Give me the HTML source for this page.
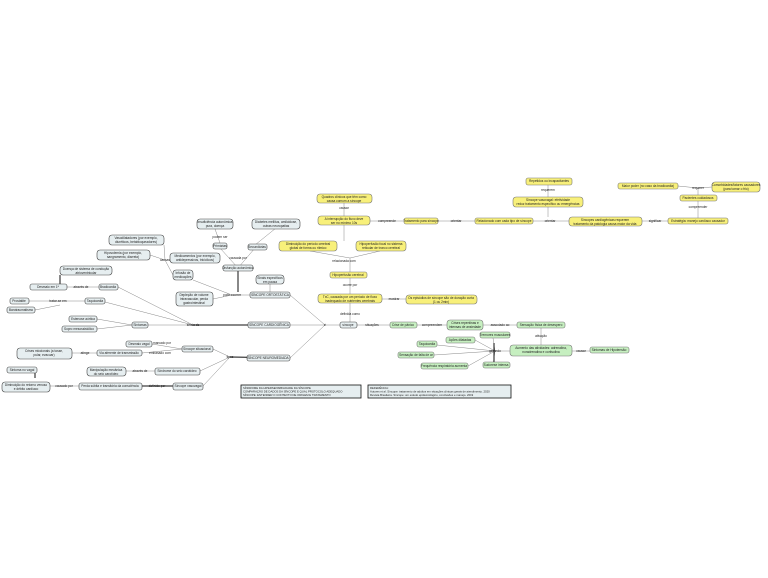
<!DOCTYPE html>
<html><head><meta charset="utf-8"><style>
html,body{margin:0;padding:0;background:#fff;}
svg{display:block;font-family:"Liberation Sans",sans-serif;}
.g{fill:#e6eef0;stroke:#444;stroke-width:.6}
.y{fill:#f8f07a;stroke:#777;stroke-width:.6}
.n{fill:#c6efc0;stroke:#777;stroke-width:.6}
text{font-size:3.2px;fill:#222;text-anchor:middle}
.l{stroke:#888;stroke-width:.5;fill:none}
.k{stroke:#111;stroke-width:1;fill:none}
.lt{font-size:2.8px;fill:#444}
</style></head><body>
<svg width="768" height="578" viewBox="0 0 768 578" xmlns="http://www.w3.org/2000/svg">
<!-- connectors -->
<g class="l">
<path d="M193 325 L118 287 M193 325 L105 302 M193 325 L148 325 M193 325 L248 325 M325 325 L290 295 M325 325 L290 325 M325 325 L290 358 M340 325 L325 325 M357 325 L390 325 M417 325 L447 325 M483 325 L517 325"/>
<path d="M230 357 L213 349 M230 357 L200 371 M230 357 L203 386 M230 357 L290 358 M182 349 L142 353 M182 349 L152 344 M155 371 L126 371 M173 386 L142 386 M79 386 L50 386 M97 353 L72 353"/>
<path d="M232 295 L193 280 M232 295 L213 299 M232 295 L250 295 M165 260 L150 255 M165 260 L164 245 M165 260 L173 275 M99 287 L67 287 M85 301 L29 301 M60 305 L35 310 M132 325 L97 319 M132 325 L97 329"/>
<path d="M238 268 L220 248 M238 268 L255 248 M220 243 L215 229 M255 245 L276 228 M270 292 L270 284"/>
<path d="M495 351 L475 340 M495 351 L493 338 M495 351 L437 345 M495 351 L434 355 M495 351 L468 366 M495 351 L493 365 M495 351 L510 351 M572 351 L590 351 M541 328 L541 345"/>
<path d="M350 323 L350 303 M350 294 L350 278 M350 272 L350 258 L310 251 M350 258 L380 251 M344 241 L344 225 M344 216 L344 203 M370 221 L404 221 M438 221 L475 221 M533 221 L569 221 M548 217 L548 207 M548 197 L548 185 M642 221 L668 221 M698 218 L698 201 M698 195 L698 188 L678 186 M698 188 L712 187 M382 299 L406 299"/>
</g>
<g class="k">
<path d="M193 325 L248 325 M290 358 L230 357 M238 268 L238 292 M60 275 L60 287 M142 386 L173 386 M35 378 L35 373 M494 343 L494 365"/>
</g>
<!-- grey nodes -->
<g>
<rect class="g" x="197" y="219" width="36" height="10" rx="3"/><text x="215" y="223">Insuficiência autonômica</text><text x="215" y="227">pura, doença</text>
<rect class="g" x="252" y="219" width="48" height="10" rx="3"/><text x="276" y="223">Diabetes mellitus, amiloidose,</text><text x="276" y="227">outras neuropatias</text>
<rect class="g" x="213" y="243" width="14" height="6" rx="2"/><text x="220" y="247">Primárias</text>
<rect class="g" x="248" y="244" width="19" height="6" rx="2"/><text x="257" y="248">Secundárias</text>
<rect class="g" x="223" y="265" width="30" height="6" rx="2"/><text x="238" y="269">Disfunção autonômica</text>
<rect class="g" x="109" y="235" width="55" height="10" rx="3"/><text x="136" y="239">Vasodilatadores (por exemplo,</text><text x="136" y="243">diuréticos, betabloqueadores)</text>
<rect class="g" x="97" y="250" width="53" height="10" rx="3"/><text x="123" y="254">Hipovolemia (por exemplo,</text><text x="123" y="258">sangramento, diarreia)</text>
<rect class="g" x="170" y="253" width="50" height="10" rx="3"/><text x="195" y="257">Medicamentos (por exemplo,</text><text x="195" y="261">antidepressivos, tricíclicos)</text>
<rect class="g" x="173" y="270" width="20" height="10" rx="3"/><text x="183" y="274">Infusão de</text><text x="183" y="278">medicações</text>
<rect class="g" x="176" y="292" width="37" height="14" rx="3"/><text x="194" y="296">Depleção de volume</text><text x="194" y="300">intravascular, perda</text><text x="194" y="304">gastrointestinal</text>
<rect class="g" x="250" y="292" width="40" height="6" rx="2"/><text x="270" y="296">SÍNCOPE ORTOSTÁTICA</text>
<rect class="g" x="256" y="275" width="28" height="9" rx="3"/><text x="270" y="279">Sinais específicos</text><text x="270" y="283">em pausa</text>
<rect class="g" x="248" y="322" width="42" height="6" rx="2"/><text x="269" y="326">SÍNCOPE CARDIOGÊNICA</text>
<rect class="g" x="247" y="355" width="43" height="6" rx="2"/><text x="268" y="359">SÍNCOPE NEUROMEDIADA</text>
<rect class="g" x="340" y="322" width="17" height="6" rx="2"/><text x="348" y="326">síncope</text>
<rect class="g" x="60" y="266" width="52" height="9" rx="3"/><text x="86" y="270">Doença de sistema de condução</text><text x="86" y="274">atrioventricular</text>
<rect class="g" x="99" y="284" width="19" height="6" rx="2"/><text x="108" y="288">Bradicardia</text>
<rect class="g" x="30" y="284" width="37" height="6" rx="2"/><text x="48" y="288">Desmaio em 1ª</text>
<rect class="g" x="85" y="298" width="20" height="6" rx="2"/><text x="95" y="302">Taquicardia</text>
<rect class="g" x="10" y="298" width="19" height="6" rx="2"/><text x="19" y="302">Prostatite</text>
<rect class="g" x="7" y="307" width="28" height="6" rx="2"/><text x="21" y="311">Barotraumatismo</text>
<rect class="g" x="132" y="322" width="16" height="6" rx="2"/><text x="140" y="326">Sintomas</text>
<rect class="g" x="69" y="316" width="28" height="6" rx="2"/><text x="83" y="320">Estenose aórtica</text>
<rect class="g" x="62" y="326" width="35" height="6" rx="2"/><text x="79" y="330">Sopro mesossistólico</text>
<rect class="g" x="126" y="341" width="26" height="6" rx="2"/><text x="139" y="345">Desmaio vagal</text>
<rect class="g" x="182" y="346" width="31" height="6" rx="2"/><text x="197" y="350">Síncope situacional</text>
<rect class="g" x="97" y="350" width="45" height="6" rx="2"/><text x="119" y="354">Via aferente de transmissão</text>
<rect class="g" x="17" y="348" width="55" height="11" rx="3"/><text x="44" y="352">Crises miccionais (a tosse,</text><text x="44" y="356">pular, evacuar)</text>
<rect class="g" x="155" y="368" width="45" height="7" rx="2"/><text x="177" y="372">Síndrome do seio carotídeo</text>
<rect class="g" x="87" y="367" width="39" height="9" rx="3"/><text x="106" y="371">Manipulação mecânica</text><text x="106" y="375">do seio carotídeo</text>
<rect class="g" x="173" y="383" width="30" height="7" rx="2"/><text x="188" y="387">Síncope vasovagal</text>
<rect class="g" x="79" y="383" width="63" height="7" rx="2"/><text x="110" y="387">Perda súbita e transitória da consciência</text>
<rect class="g" x="2" y="382" width="48" height="10" rx="3"/><text x="26" y="386">Diminuição do retorno venoso</text><text x="26" y="390">e débito cardíaco</text>
<rect class="g" x="7" y="367" width="30" height="6" rx="2"/><text x="22" y="371">Sintoma no vagal</text>
</g>
<!-- yellow nodes -->
<g>
<rect class="y" x="317" y="194" width="55" height="9" rx="3"/><text x="344" y="198">Quadros clínicos que têm como</text><text x="344" y="202">causa comum a síncope</text>
<rect class="y" x="318" y="216" width="52" height="9" rx="3"/><text x="344" y="220">A interrupção do fluxo deve</text><text x="344" y="224">ser no mínimo 10s</text>
<rect class="y" x="279" y="241" width="58" height="10" rx="3"/><text x="308" y="245">Diminuição do período cerebral</text><text x="308" y="249">global de forma ou rítmico</text>
<rect class="y" x="356" y="241" width="50" height="10" rx="3"/><text x="381" y="245">Hipoperfusão focal no sistema</text><text x="381" y="249">reticular de tronco cerebral</text>
<rect class="y" x="330" y="272" width="37" height="6" rx="2"/><text x="348" y="276">Hipoperfusão cerebral</text>
<rect class="y" x="318" y="294" width="64" height="9" rx="3"/><text x="350" y="298">TxC, causada por um período de fluxo</text><text x="350" y="302">inadequado de nutrientes cerebrais</text>
<rect class="y" x="406" y="295" width="71" height="9" rx="3"/><text x="441" y="299">Os episódios de síncope são de duração curta</text><text x="441" y="303">(1 ou 2min)</text>
<rect class="y" x="404" y="218" width="34" height="6" rx="2"/><text x="421" y="222">Tratamento para síncope</text>
<rect class="y" x="475" y="218" width="58" height="6" rx="2"/><text x="504" y="222">Relacionado com cada tipo de síncope</text>
<rect class="y" x="526" y="178" width="46" height="7" rx="2"/><text x="549" y="182">Repetidos ou incapacitantes</text>
<rect class="y" x="513" y="197" width="70" height="10" rx="3"/><text x="548" y="201">Síncope vasovagal: efetividade</text><text x="548" y="205">reduz tratamento específico ou emergências</text>
<rect class="y" x="569" y="217" width="73" height="9" rx="3"/><text x="605" y="221">Síncopes cardiogênicas requerem</text><text x="605" y="225">tratamento da patologia causa maior da vida</text>
<rect class="y" x="668" y="218" width="60" height="6" rx="2"/><text x="698" y="222">Estratégia: manejo cardíaco causador</text>
<rect class="y" x="680" y="195" width="37" height="6" rx="2"/><text x="698" y="199">Pacientes cuidadosos</text>
<rect class="y" x="618" y="183" width="60" height="6" rx="2"/><text x="648" y="187">Maior poder (no caso da bradicardia)</text>
<rect class="y" x="712" y="182" width="48" height="10" rx="3"/><text x="736" y="186">Comorbidades/fatores causadores</text><text x="736" y="190">(para tomar o frio)</text>
</g>
<!-- green nodes -->
<g>
<rect class="n" x="390" y="322" width="27" height="6" rx="2"/><text x="403" y="326">Crise de pânico</text>
<rect class="n" x="447" y="320" width="36" height="10" rx="3"/><text x="465" y="324">Crises repentinas e</text><text x="465" y="328">intensas de ansiedade</text>
<rect class="n" x="517" y="322" width="48" height="6" rx="2"/><text x="541" y="326">Sensação física de desespero</text>
<rect class="n" x="510" y="345" width="62" height="11" rx="3"/><text x="541" y="349">Aumento das atividades: adrenalina,</text><text x="541" y="353">noradrenalina e cortisolina</text>
<rect class="n" x="590" y="347" width="39" height="6" rx="2"/><text x="609" y="351">Sintomas de Hipotensão</text>
<rect class="n" x="446" y="337" width="29" height="6" rx="2"/><text x="460" y="341">Ações dilatadas</text>
<rect class="n" x="480" y="332" width="30" height="6" rx="2"/><text x="495" y="336">Tremores musculares</text>
<rect class="n" x="417" y="341" width="20" height="6" rx="2"/><text x="427" y="345">Taquicardia</text>
<rect class="n" x="398" y="352" width="36" height="6" rx="2"/><text x="416" y="356">Sensação de falta de ar</text>
<rect class="n" x="421" y="363" width="47" height="6" rx="2"/><text x="444" y="367">Frequência respiratória aumenta</text>
<rect class="n" x="483" y="362" width="27" height="6" rx="2"/><text x="496" y="366">Sudorese intensa</text>
</g>
<!-- link labels -->
<g class="lt">
<text x="193" y="326">sinais de</text><text x="325" y="326">é</text><text x="230" y="358">tipos</text><text x="232" y="296">pode ocorrer</text>
<text x="165" y="261">causas</text><text x="238" y="259">causada por</text><text x="220" y="238">podem ser</text><text x="81" y="288">através de</text><text x="58" y="302">tratar-se em</text>
<text x="350" y="315">definida como</text><text x="350" y="286">ocorre por</text><text x="344" y="262">relacionada com</text><text x="344" y="209">causar</text>
<text x="387" y="222">compreende</text><text x="456" y="222">orientar</text><text x="550" y="222">orientar</text><text x="548" y="191">requerem</text><text x="655" y="222">significar</text>
<text x="698" y="208">compreender</text><text x="698" y="189">requerer</text><text x="394" y="300">mostrar</text><text x="372" y="326">situações</text><text x="432" y="326">compreendem</text>
<text x="500" y="326">associado ao</text><text x="541" y="337">ativação</text><text x="495" y="352">gerando</text><text x="581" y="352">causar</text>
<text x="162" y="344">marcado por</text><text x="160" y="354">embasado com</text><text x="140" y="372">através de</text><text x="157" y="387">definido por</text><text x="64" y="387">causado por</text><text x="85" y="354">atinge</text>
</g>
<!-- legends -->
<rect x="241" y="385" width="120" height="13" fill="#e6eef0" stroke="#111" stroke-width=".8"/>
<text x="243" y="389" style="text-anchor:start;font-size:2.8px">SÍNDROME DA HIPERSENSIBILIDADE DA SÍNCOPE</text>
<text x="243" y="392.5" style="text-anchor:start;font-size:2.8px">COMPARAÇÃO DE DADOS DA SÍNCOPE E QUAL PROTOCOLO ADEQUADO</text>
<text x="243" y="396" style="text-anchor:start;font-size:2.8px">SÍNCOPE: ENTENDER O CONTEXTO DE ORIGEM E TRATAMENTO</text>
<rect x="368" y="385" width="143" height="13" fill="#e6eef0" stroke="#111" stroke-width=".8"/>
<text x="370" y="389" style="text-anchor:start;font-size:2.8px">REFERÊNCIA:</text>
<text x="370" y="392.5" style="text-anchor:start;font-size:2.8px">Autores et al. Síncope: tratamento de adultos em situações clínicas gerais de atendimento. 2020</text>
<text x="370" y="396" style="text-anchor:start;font-size:2.8px">Revista Brasileira. Síncope: um estudo epidemiológico, conclusões e manejo. 2019</text>
</svg>
</body></html>
